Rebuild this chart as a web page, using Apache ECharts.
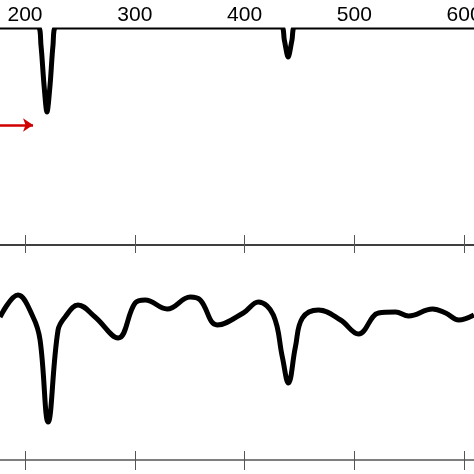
<!DOCTYPE html><html><head><meta charset="utf-8"><script src="https://cdn.jsdelivr.net/npm/echarts@6/dist/echarts.min.js"></script>
<style>html,body{margin:0;padding:0;background:#fff}#c{width:474px;height:474px}</style></head><body><div id="c"></div>
<script>
const tickValues=[200,300,400,500,600];
const topX=[177.2,211.8,214.5,217.3,220.0,222.8,225.5,228.2,433.4,436.2,439.7,443.2,446.0,609];
const topY=[218,218,200,160,133,160,200,218,218,205,188,205,218,218];
const botX=[177.2,193.6,207.3,213.7,221.0,230.1,236.5,248.3,263.8,284.8,300.3,309.4,329.5,350.5,359.6,375.1,398.8,412.5,426.2,434.4,439.9,446.3,452.7,467.3,487.4,503.8,522.0,537.5,549.4,571.3,583.2,595.1,609];
const botY=[143,165,143,120,38,130,143,155,143,122,157,160,151,163,160,135,147,158,145,103,77,113,142,150,140,126,147,148,144,151,147,140,145];
const arrowX=[177.2,207.3], arrowY=120;
const pair=(a,b)=>a.map((v,i)=>[v,b[i]]);
const c=echarts.init(document.getElementById('c'));
const xbase={type:'value',min:177.2,max:609,splitLine:{show:false}};
c.setOption({animation:false,
grid:[{left:0,right:0,top:30,height:215,outerBoundsMode:'none',containLabel:false},{left:0,right:0,top:245,height:215,outerBoundsMode:'none',containLabel:false}],
xAxis:[
{...xbase,gridIndex:0,position:'top',axisLine:{lineStyle:{color:'#000',width:2}},axisTick:{inside:true,length:8,customValues:tickValues,lineStyle:{color:'#555'}},axisLabel:{customValues:tickValues,margin:4,color:'#000',fontSize:21,fontFamily:'Liberation Sans'}},
{...xbase,gridIndex:0,position:'bottom',axisLine:{lineStyle:{color:'#555',width:1.5}},axisTick:{inside:true,length:10,customValues:tickValues,lineStyle:{color:'#555'}},axisLabel:{show:false}},
{...xbase,gridIndex:1,position:'top',axisLine:{show:false},axisTick:{inside:true,length:10,customValues:tickValues,lineStyle:{color:'#555'}},axisLabel:{show:false}},
{...xbase,gridIndex:1,position:'bottom',axisLine:{lineStyle:{color:'#555',width:1.5}},axisTick:{inside:true,length:9,customValues:tickValues,lineStyle:{color:'#555'}},axisLabel:{show:false}}
],
yAxis:[{type:'value',gridIndex:0,min:0,max:215,show:false},{type:'value',gridIndex:1,min:0,max:215,show:false}],
series:[
{type:'line',xAxisIndex:0,yAxisIndex:0,data:pair(topX,topY),smooth:0.3,showSymbol:false,clip:true,lineStyle:{color:'#000',width:5},
 markLine:{silent:true,symbol:['none','arrow'],symbolSize:10,label:{show:false},lineStyle:{color:'#d00000',width:2.5,type:'solid'},data:[[{coord:[arrowX[0],arrowY]},{coord:[arrowX[1],arrowY]}]]}},
{type:'line',xAxisIndex:3,yAxisIndex:1,data:pair(botX,botY),smooth:0.4,showSymbol:false,lineStyle:{color:'#000',width:5}}
]});
</script></body></html>
